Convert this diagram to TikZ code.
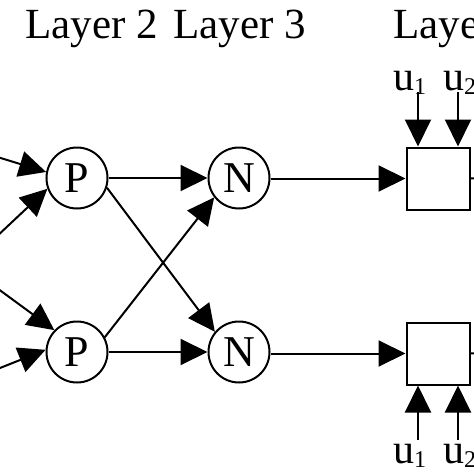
\documentclass[tikz,border=0pt]{standalone}
\usepackage{fontspec}
\setmainfont{Liberation Serif}
\usetikzlibrary{arrows.meta}
\newcommand\usub[1]{u\raisebox{-4pt}{\fontsize{24}{24}\selectfont #1}}
\begin{document}
\begin{tikzpicture}[x=1pt,y=-1pt,
  neuron/.style={circle,draw,line width=2pt,minimum size=61pt,inner sep=0pt,font=\fontsize{44}{44}\selectfont},
  blk/.style={rectangle,draw,line width=2pt,minimum width=63pt,minimum height=62pt,inner sep=0pt},
  arr/.style={line width=2pt,-{Triangle[length=27pt,width=26pt]}},
  ln/.style={line width=2pt},
  lab/.style={anchor=base west,inner sep=0pt,font=\fontsize{43}{43}\selectfont},
  ulab/.style={anchor=base west,inner sep=0pt,font=\fontsize{42}{42}\selectfont}]
\useasboundingbox (0,0) rectangle (474,474);
\clip (0,0) rectangle (474,474);

% layer labels
\node[lab] (l2) at (25,38) {Layer 2};
\node[lab] (l3) at (173,38) {Layer 3};
\node[lab] (l4) at (393,38) {Layer 4};

% neurons
\node[neuron] (P1) at (77,178) {P};
\node[neuron] (P2) at (77,352) {P};
\node[neuron] (N1) at (239,178) {N};
\node[neuron] (N2) at (239,352) {N};

% blocks
\node[blk] (B1) at (438,178.5) {};
\node[blk] (B2) at (438,353.5) {};

% off-canvas sources
\coordinate (s1) at (-40,145.5);
\coordinate (s2) at (-40,271);
\coordinate (s3) at (-40,261);
\coordinate (s4) at (-40,384);
\coordinate (o1) at (500,178);
\coordinate (o2) at (500,353);
\coordinate (ut1) at (418,92);
\coordinate (ut2) at (458,92);
\coordinate (ub1) at (418,440);
\coordinate (ub2) at (458,440);

% inputs to layer 2
\draw[arr] (s1) -- (P1.169);
\draw[arr] (s2) -- (P1.200);
\draw[arr] (s3) -- (P2.136);
\draw[arr] (s4) -- (P2.176);

% layer 2 -> layer 3
\draw[arr] (P1) -- (N1);
\draw[arr] (P2) -- (N2);
\draw[arr] (P1.-18) -- (N2.140);
\draw[arr] (P2.28) -- (N1.218);

% layer 3 -> blocks
\draw[arr] (N1.east |- B1.west) -- (B1.west);
\draw[arr] (N2.east |- B2.west) -- (B2.west);
\draw[ln] (B1.east) -- (o1);
\draw[ln] (B2.east) -- (o2);

% control inputs
\draw[arr] (ut1) -- (ut1 |- B1.north);
\draw[arr] (ut2) -- (ut2 |- B1.north);
\draw[arr] (ub1) -- (ub1 |- B2.south);
\draw[arr] (ub2) -- (ub2 |- B2.south);
\node[ulab] (lu1) at (393,90) {\usub{1}};
\node[ulab] (lu2) at (443,90) {\usub{2}};
\node[ulab] (lb1) at (393,463) {\usub{1}};
\node[ulab] (lb2) at (443,463) {\usub{2}};
\end{tikzpicture}
\end{document}
